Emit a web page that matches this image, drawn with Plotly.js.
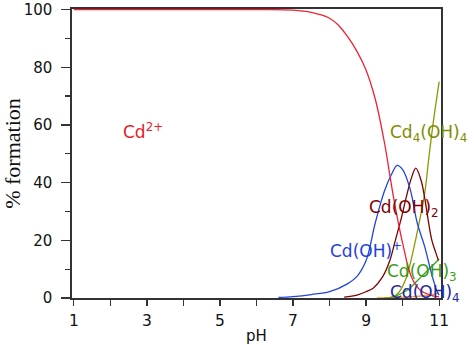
<!DOCTYPE html>
<html>
<head>
<meta charset="utf-8">
<script src="https://cdn.plot.ly/plotly-3.0.1.min.js"></script>
<style>html,body{margin:0;padding:0;background:#fff;}#chart{width:474px;height:345px;}</style>
</head>
<body>
<div id="chart"></div>
<script>
// Species distribution
const phCd = [1, 6, 7, 7.5, 8, 8.25, 8.5, 8.75, 9, 9.25, 9.5, 9.75, 10, 10.25, 10.5, 10.75, 11];
const valCd = [100, 100, 99.8, 99.0, 97, 94.5, 90.5, 85.5, 79, 69, 54, 35, 19, 7, 2.5, 1, 0.4];

const phCdOH = [6.6, 7, 7.5, 8, 8.5, 8.75, 9, 9.25, 9.5, 9.7, 9.85, 10, 10.2, 10.4, 10.6, 10.8, 10.95, 11];
const valCdOH = [0.2, 0.5, 1.2, 2.2, 5, 7.5, 13, 26, 37, 43, 46, 44.5, 38, 26, 18, 8, 2, 1];

const phCdOH2 = [8.4, 8.75, 9, 9.2, 9.45, 9.65, 9.8, 9.95, 10.1, 10.25, 10.36, 10.5, 10.6, 10.7, 10.8, 10.9, 10.98];
const valCdOH2 = [0.3, 1, 2.2, 3.5, 7.3, 13, 20, 27, 35, 42, 45, 41, 35, 27, 20, 16, 13];

const phCdOH3 = [9.6, 9.8, 10, 10.2, 10.4, 10.6, 10.8, 11];
const valCdOH3 = [0, 0.6, 1.8, 3.5, 6, 8.5, 11, 13.5];

const phCdOH4 = [9.3, 9.6, 9.9, 10.2, 10.5, 10.8, 11];
const valCdOH4 = [0, 0.1, 0.2, 0.4, 0.7, 1.2, 1.8];

const phCd4OH4 = [9.5, 9.75, 9.9, 10.1, 10.3, 10.45, 10.6, 10.73, 10.85, 11];
const valCd4OH4 = [0, 0.5, 2, 7, 17, 26, 36, 50, 62, 75];

const xTickVals = [1, 3, 5, 7, 9, 11];
const xMinorVals = [2, 4, 6, 8, 10];
const yTickVals = [0, 20, 40, 60, 80, 100];
const yMinorVals = [10, 30, 50, 70, 90];

const labels = [
  {text: 'Cd<sup>2+</sup>', x: 2.9, y: 58, color: '#e8202a'},
  {text: 'Cd<sub>4</sub>(OH)<sub>4</sub>', x: 10.7, y: 57, color: '#7f8c00'},
  {text: 'Cd(OH)<sub>2</sub>', x: 10.04, y: 31, color: '#800000'},
  {text: 'Cd(OH)<sup>+</sup>', x: 9.0, y: 16.5, color: '#1f3fe0'},
  {text: 'Cd(OH)<sub>3</sub>', x: 10.53, y: 9, color: '#3a9c1a'},
  {text: 'Cd(OH)<sub>4</sub>', x: 10.6, y: 1.4, color: '#1c2a9c'}
];

function line(x, y, color) {
  return {x: x, y: y, type: 'scatter', mode: 'lines', line: {color: color, width: 1.3, shape: 'spline', smoothing: 1}, hoverinfo: 'skip'};
}

const traces = [
  line(phCdOH4, valCdOH4, '#ff9933'),
  line(phCdOH3, valCdOH3, '#33a322'),
  line(phCd4OH4, valCd4OH4, '#8a9a00'),
  line(phCdOH2, valCdOH2, '#800000'),
  line(phCdOH, valCdOH, '#2244dd'),
  line(phCd, valCd, '#ee2233')
];

const font = 'DejaVu Sans, Arial, sans-serif';
const tickStyle = {ticks: 'outside', tickwidth: 1.3, tickcolor: '#333'};
const layout = {
  width: 474, height: 345,
  margin: {l: 72, r: 33, t: 9, b: 47, pad: 0},
  paper_bgcolor: '#fff', plot_bgcolor: '#fff',
  showlegend: false,
  xaxis: Object.assign({
    range: [0.95, 11.05], tickmode: 'array', tickvals: xTickVals, ticktext: xTickVals.map(String),
    ticklen: 6, ticklabelstandoff: 2, ticklabeloverflow: 'allow',
    minor: Object.assign({tickmode: 'array', tickvals: xMinorVals, ticklen: 6}, tickStyle),
    showline: true, linecolor: '#333', linewidth: 1.6, mirror: true,
    showgrid: false, zeroline: false, automargin: false,
    tickfont: {family: font, size: 15.5, color: '#111'},
    title: {text: 'pH', font: {family: font, size: 15, color: '#111'}, standoff: 2}
  }, tickStyle),
  yaxis: Object.assign({
    range: [0, 100.2], tickmode: 'array', tickvals: yTickVals, ticktext: yTickVals.map(String),
    ticklen: 9, ticklabelstandoff: 6, ticklabeloverflow: 'allow',
    minor: Object.assign({tickmode: 'array', tickvals: yMinorVals, ticklen: 5}, tickStyle),
    showline: true, linecolor: '#333', linewidth: 1.6, mirror: true,
    showgrid: false, zeroline: false, automargin: false,
    tickfont: {family: font, size: 15, color: '#111'},
    title: {text: '% formation', font: {family: 'Liberation Serif, Times New Roman, serif', size: 22, color: '#111'}, standoff: 1}
  }, tickStyle),
  annotations: labels.map(l => ({
    text: l.text, x: l.x, y: l.y, xref: 'x', yref: 'y', showarrow: false,
    font: {family: font, size: 17, color: l.color}, xanchor: 'center', yanchor: 'middle'
  }))
};

Plotly.newPlot('chart', traces, layout, {displayModeBar: false, staticPlot: true});
</script>
</body>
</html>
